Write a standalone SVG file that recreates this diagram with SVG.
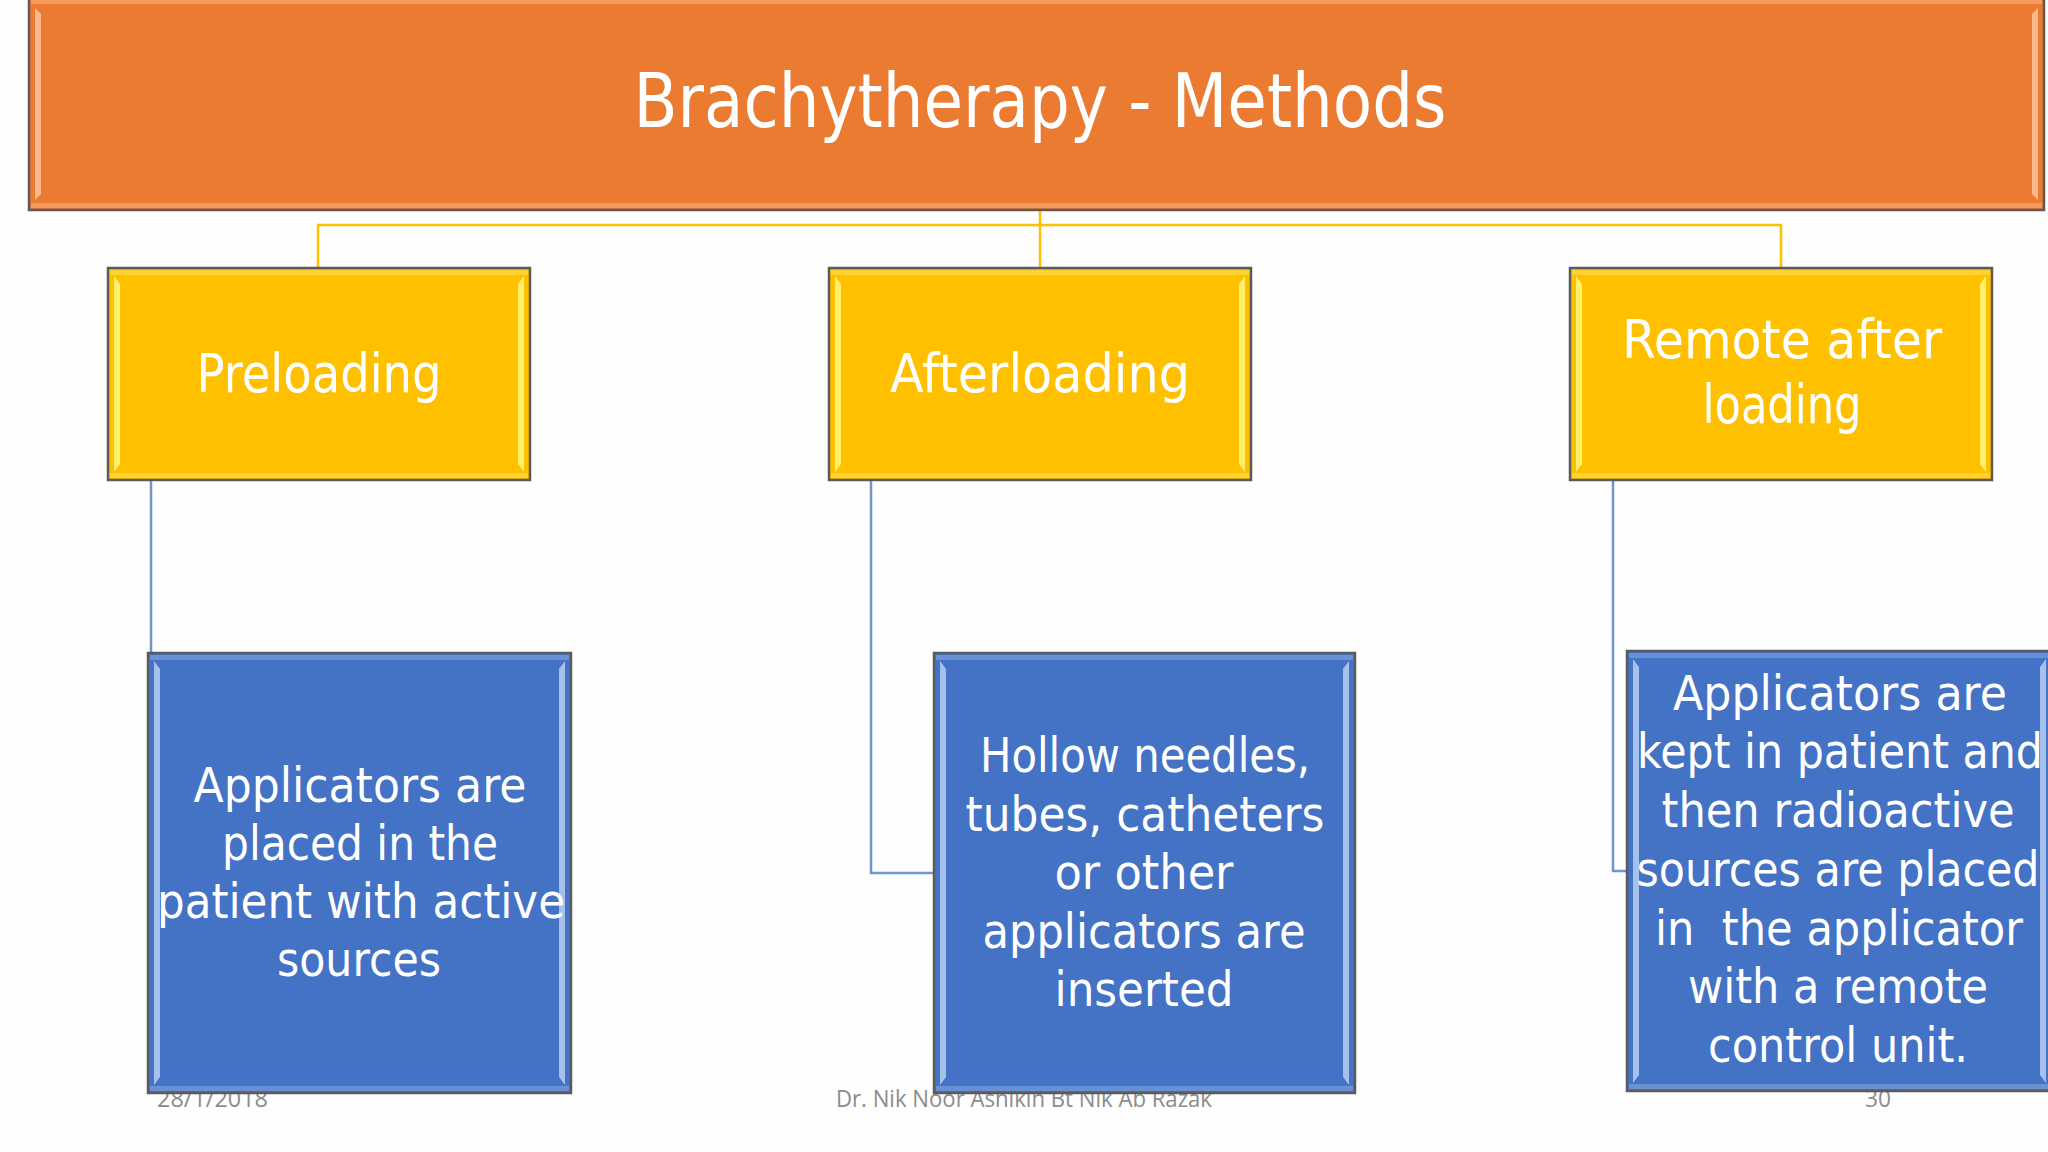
<svg xmlns="http://www.w3.org/2000/svg" width="2048" height="1152" viewBox="0 0 2048 1152">
<defs>
<style>
.lbl{font-family:"DejaVu Sans","Noto Sans",sans-serif;fill:#FFFFFF;text-anchor:middle}
.title{font-size:74px}
.mid{font-size:54px}
.small{font-size:48px}
.foot{font-family:"Open Sans","Liberation Sans",sans-serif;font-size:23px;fill:#8C8C8C}
.frame{stroke:#5B5B5B;stroke-width:2.5}
.orange{fill:#EB7B31}
.yellow{fill:#FFC000}
.blue{fill:#4472C4}
.hlO{fill:#F8B88A}
.hlY{fill:#FFF06A}
.hlB{fill:#A6C0EC}
.topO{fill:#F39A5C}
.topY{fill:#FFD233}
.topB{fill:#6A90D4}
.yl{stroke:#FFC000;stroke-width:2.5;fill:none}
.bl{stroke:#7094D0;stroke-width:2.5;fill:none}
</style>
</defs>
<rect x="0" y="0" width="2048" height="1152" fill="#FEFEFE"/>

<g id="connectors">
<path class="yl" d="M1040,210 V268"/>
<path class="yl" d="M318,268 V225 H1781 V268"/>
<path class="bl" d="M151,480 V873 H150"/>
<path class="bl" d="M871,480 V873 H935"/>
<path class="bl" d="M1613,480 V871 H1628"/>
</g>

<g id="footer">
<text class="foot" x="157" y="1107" textLength="111" lengthAdjust="spacingAndGlyphs">28/1/2018</text>
<text class="foot" x="836" y="1107" textLength="376" lengthAdjust="spacingAndGlyphs">Dr. Nik Noor Ashikin Bt Nik Ab Razak</text>
<text class="foot" x="1865" y="1107" textLength="26" lengthAdjust="spacingAndGlyphs">30</text>
</g>

<g id="title">
<rect class="orange frame" x="29" y="-2" width="2015" height="212"/>
<rect class="topO" x="31" y="0" width="2011" height="4"/>
<polygon class="hlO" points="35,8 41,14 41,194 35,200"/>
<polygon class="hlO" points="2038,8 2032,14 2032,194 2038,200"/>
<rect class="topO" x="31" y="203" width="2011" height="5"/>
<text class="lbl title" x="1040" y="127" textLength="813" lengthAdjust="spacingAndGlyphs">Brachytherapy - Methods</text>
</g>

<g id="preloading">
<rect class="yellow frame" x="108" y="268" width="422" height="212"/>
<rect class="topY" x="110" y="270" width="418" height="5"/>
<rect class="topY" x="110" y="473" width="418" height="5"/>
<polygon class="hlY" points="114,276 120,284 120,464 114,472"/>
<polygon class="hlY" points="524,276 518,284 518,464 524,472"/>
<text class="lbl mid" x="319" y="392" textLength="245" lengthAdjust="spacingAndGlyphs">Preloading</text>
</g>

<g id="afterloading">
<rect class="yellow frame" x="829" y="268" width="422" height="212"/>
<rect class="topY" x="831" y="270" width="418" height="5"/>
<rect class="topY" x="831" y="473" width="418" height="5"/>
<polygon class="hlY" points="835,276 841,284 841,464 835,472"/>
<polygon class="hlY" points="1245,276 1239,284 1239,464 1245,472"/>
<text class="lbl mid" x="1040" y="392" textLength="300" lengthAdjust="spacingAndGlyphs">Afterloading</text>
</g>

<g id="remote-afterloading">
<rect class="yellow frame" x="1570" y="268" width="422" height="212"/>
<rect class="topY" x="1572" y="270" width="418" height="5"/>
<rect class="topY" x="1572" y="473" width="418" height="5"/>
<polygon class="hlY" points="1576,276 1582,284 1582,464 1576,472"/>
<polygon class="hlY" points="1986,276 1980,284 1980,464 1986,472"/>
<text class="lbl mid" x="1782" y="358" textLength="320" lengthAdjust="spacingAndGlyphs">Remote after</text>
<text class="lbl mid" x="1782" y="423" textLength="159" lengthAdjust="spacingAndGlyphs">loading</text>
</g>

<g id="preloading-desc">
<rect class="blue frame" x="148" y="653" width="423" height="440"/>
<rect class="topB" x="150" y="655" width="419" height="5"/>
<rect class="topB" x="150" y="1086" width="419" height="5"/>
<polygon class="hlB" points="154,661 160,669 160,1077 154,1085"/>
<polygon class="hlB" points="565,661 559,669 559,1077 565,1085"/>
<text class="lbl small" x="360" y="802" textLength="333" lengthAdjust="spacingAndGlyphs">Applicators are</text>
<text class="lbl small" x="360" y="860" textLength="276" lengthAdjust="spacingAndGlyphs">placed in the</text>
<text class="lbl small" x="361" y="918" textLength="408" lengthAdjust="spacingAndGlyphs">patient with active</text>
<text class="lbl small" x="359" y="976" textLength="164" lengthAdjust="spacingAndGlyphs">sources</text>
</g>

<g id="afterloading-desc">
<rect class="blue frame" x="934" y="653" width="421" height="440"/>
<rect class="topB" x="936" y="655" width="417" height="5"/>
<rect class="topB" x="936" y="1086" width="417" height="5"/>
<polygon class="hlB" points="940,661 946,669 946,1077 940,1085"/>
<polygon class="hlB" points="1349,661 1343,669 1343,1077 1349,1085"/>
<text class="lbl small" x="1145" y="772" textLength="330" lengthAdjust="spacingAndGlyphs">Hollow needles,</text>
<text class="lbl small" x="1145" y="831" textLength="359" lengthAdjust="spacingAndGlyphs">tubes, catheters</text>
<text class="lbl small" x="1144" y="889" textLength="179" lengthAdjust="spacingAndGlyphs">or other</text>
<text class="lbl small" x="1144" y="948" textLength="323" lengthAdjust="spacingAndGlyphs">applicators are</text>
<text class="lbl small" x="1144" y="1006" textLength="179" lengthAdjust="spacingAndGlyphs">inserted</text>
</g>

<g id="remote-desc">
<rect class="blue frame" x="1627" y="651" width="424" height="440"/>
<rect class="topB" x="1629" y="653" width="420" height="5"/>
<rect class="topB" x="1629" y="1084" width="420" height="5"/>
<polygon class="hlB" points="1633,659 1639,667 1639,1075 1633,1083"/>
<polygon class="hlB" points="2046,659 2040,667 2040,1075 2046,1083"/>
<text class="lbl small" x="1840" y="710" textLength="334" lengthAdjust="spacingAndGlyphs">Applicators are</text>
<text class="lbl small" x="1840" y="768" textLength="406" lengthAdjust="spacingAndGlyphs">kept in patient and</text>
<text class="lbl small" x="1838" y="827" textLength="353" lengthAdjust="spacingAndGlyphs">then radioactive</text>
<text class="lbl small" x="1838" y="886" textLength="403" lengthAdjust="spacingAndGlyphs">sources are placed</text>
<text class="lbl small" x="1839" y="945" textLength="368" lengthAdjust="spacingAndGlyphs" xml:space="preserve">in  the applicator</text>
<text class="lbl small" x="1838" y="1003" textLength="300" lengthAdjust="spacingAndGlyphs">with a remote</text>
<text class="lbl small" x="1838" y="1062" textLength="260" lengthAdjust="spacingAndGlyphs">control unit.</text>
</g>
</svg>
